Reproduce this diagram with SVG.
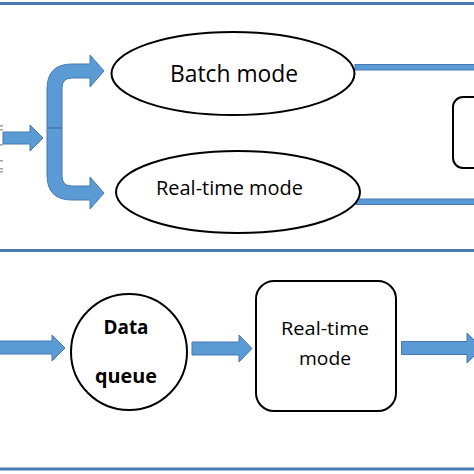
<svg xmlns="http://www.w3.org/2000/svg" width="474" height="474" viewBox="0 0 474 474">
<defs>
<style>
.sep{stroke:#4a78b4;stroke-width:3;fill:none}
.arr{fill:#5b9bd5;stroke:#4878b0;stroke-width:1}
.bar{fill:#5b9bd5;stroke:#4878b0;stroke-width:1}
.node{fill:#fff;stroke:#000;stroke-width:2}
.t{font-family:"Open Sans","Liberation Sans",sans-serif;fill:#000;text-anchor:middle}
.frag{fill:#a0a0a0}
</style>
</defs>
<rect width="474" height="474" fill="#fff"/>
<g id="separators">
<line class="sep" x1="0" y1="3.5" x2="474" y2="3.5"/>
<line class="sep" x1="0" y1="250.5" x2="474" y2="250.5"/>
<line class="sep" x1="0" y1="469" x2="474" y2="469"/>
</g>
<g id="fragments">
<rect class="frag" x="0" y="125" width="3" height="1.5"/>
<rect class="frag" x="0" y="129" width="3" height="1.5"/>
<rect class="frag" x="0" y="144" width="3" height="1.5"/>
<rect class="frag" x="0" y="160" width="3" height="1.5"/>
<rect class="frag" x="0" y="168" width="3" height="1.5"/>
<rect class="frag" x="0" y="171" width="3" height="1.5"/>
</g>
<g id="connectors">
<path class="arr" d="M3 132 L30 132 L30 125 L43 138 L30 151 L30 144 L3 144 Z"/>
<path class="arr" d="M47 128 L47 89 Q47 64 72 64 L90 64 L90 55 L104 71 L90 87 L90 78 L72 78 Q62 78 62 88 L62 128 Z"/>
<path class="arr" d="M47 128 L47 175 Q47 200 72 200 L90 200 L90 209 L104 193 L90 177 L90 186 L72 186 Q62 186 62 176 L62 128 Z"/>
<line x1="47" y1="128" x2="62" y2="128" stroke="#4878b0" stroke-width="1"/>
<rect class="bar" x="355" y="64.5" width="120" height="5.5"/>
<rect class="bar" x="356" y="199" width="119" height="5.5"/>
<path class="arr" d="M-1 341 L52 341 L52 335 L65 348 L52 361 L52 354 L-1 354 Z"/>
<path class="arr" d="M192 342 L239 342 L239 335 L252 348.5 L239 362 L239 355 L192 355 Z"/>
<path class="arr" d="M401.5 341.5 L467 341.5 L467 333 L482 348 L467 363 L467 354.5 L401.5 354.5 Z"/>
</g>
<g id="batch-mode">
<ellipse class="node" cx="233" cy="73.5" rx="121.5" ry="41.5"/>
<text class="t" x="234" y="82" font-size="23" textLength="128" lengthAdjust="spacingAndGlyphs">Batch mode</text>
</g>
<g id="realtime-mode-top">
<ellipse class="node" cx="238" cy="192" rx="122" ry="41"/>
<text class="t" x="229.5" y="195" font-size="20" textLength="147" lengthAdjust="spacingAndGlyphs">Real-time mode</text>
</g>
<g id="right-box">
<rect class="node" x="453" y="97" width="40" height="71" rx="10"/>
</g>
<g id="data-queue">
<circle class="node" cx="129" cy="352" r="58"/>
<text class="t" x="126" y="334" font-size="19" font-weight="bold" textLength="45" lengthAdjust="spacingAndGlyphs">Data</text>
<text class="t" x="126" y="383" font-size="19" font-weight="bold" textLength="62" lengthAdjust="spacingAndGlyphs">queue</text>
</g>
<g id="realtime-mode-bottom">
<rect class="node" x="256" y="281" width="140" height="130" rx="18"/>
<text class="t" x="325" y="335" font-size="19" textLength="88" lengthAdjust="spacingAndGlyphs">Real-time</text>
<text class="t" x="325" y="365" font-size="19" textLength="52" lengthAdjust="spacingAndGlyphs">mode</text>
</g>
</svg>
